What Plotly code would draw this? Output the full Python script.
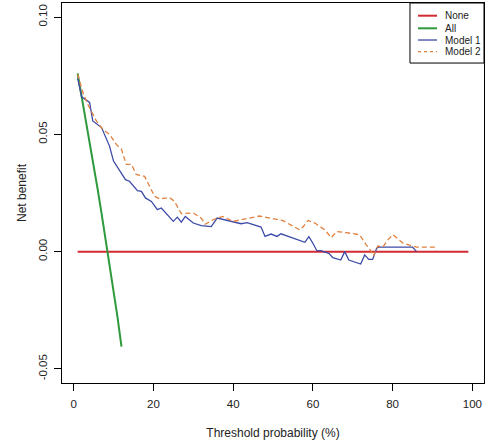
import plotly.graph_objects as go

# Threshold probabilities (%) and net benefit values
none_x = [1, 99]
none_y = [0.0, 0.0]

all_x = [1, 2, 3, 4, 5, 6, 7, 8, 9, 10, 11, 12]
all_y = [0.0760, 0.0665, 0.0569, 0.0471, 0.0371, 0.0268, 0.0163, 0.0057,
         -0.0053, -0.0164, -0.0279, -0.0405]

m1_x = [1, 2, 4, 4.8, 7, 9, 10, 13, 14, 16, 17, 18, 19.5, 21, 22, 25, 26, 27,
        28, 30, 32, 34.5, 36, 42, 43.5, 47, 48, 49.5, 51, 52, 58, 59, 60, 61,
        62, 64, 65, 67, 68, 69, 72, 73, 74, 75, 76, 76.5, 85, 86]
m1_y = [0.074, 0.066, 0.0636, 0.0557, 0.0529, 0.045, 0.0386, 0.0307, 0.030,
        0.026, 0.0257, 0.0229, 0.0214, 0.0179, 0.0186, 0.0129, 0.0147, 0.0126,
        0.015, 0.0122, 0.0111, 0.0107, 0.0143, 0.0119, 0.0124, 0.0105, 0.0065,
        0.0075, 0.0065, 0.0076, 0.004, 0.0064, 0.0036, 0.0004, 0.0004, -0.0007,
        -0.0026, -0.0036, 0.0, -0.0036, -0.0053, -0.0014, -0.0033, -0.0033,
        0.0015, 0.0019, 0.0019, 0.0]

m2_x = [1, 1.7, 2.3, 3.6, 4.8, 5.7, 7.3, 9, 10.7, 12, 13.2, 14.5, 15.7, 17.8,
        20.3, 21.6, 24, 25.3, 27, 30, 32, 33, 35, 37.4, 40, 43.3, 46.6, 52.5,
        54.6, 56.7, 57.5, 58.8, 60.5, 63, 64.6, 66, 68.4, 71.7, 73.4, 74.7,
        75.2, 76.3, 77.6, 78.8, 80.1, 82.6, 86, 90.5, 90.8]
m2_y = [0.0757, 0.0714, 0.0679, 0.0626, 0.0586, 0.0557, 0.0522, 0.050, 0.0457,
        0.0436, 0.0372, 0.0372, 0.0329, 0.0321, 0.0236, 0.0225, 0.0231, 0.0214,
        0.0162, 0.0165, 0.0143, 0.0117, 0.0136, 0.015, 0.0129, 0.0139, 0.0152,
        0.0132, 0.0114, 0.0093, 0.0105, 0.0133, 0.0122, 0.0093, 0.006, 0.0086,
        0.0081, 0.0072, 0.0029, 0.0, -0.0018, 0.0024, 0.0021, 0.005, 0.0072,
        0.0036, 0.0019, 0.0019, 0.0004]

series_names = ["None", "All", "Model 1", "Model 2"]

x_ticks = [0, 20, 40, 60, 80, 100]
y_ticks = [-0.05, 0.0, 0.05, 0.10]
y_tick_labels = ["-0.05", "0.00", "0.05", "0.10"]

RED = "#D22B33"
GREEN = "#2F9A3C"
BLUE = "#3D4BA8"
ORANGE = "#E0803F"

styles = [
    dict(color=RED, width=2),
    dict(color=GREEN, width=2),
    dict(color=BLUE, width=1.3),
    dict(color=ORANGE, width=1.3, dash="5px,3px"),
]
data = [(none_x, none_y), (all_x, all_y), (m1_x, m1_y), (m2_x, m2_y)]

FONT = "Liberation Sans, Arial, sans-serif"

fig = go.Figure()
for name, (xs, ys), st in zip(series_names, data, styles):
    fig.add_trace(go.Scatter(x=xs, y=ys, mode="lines", name=name, line=st,
                             showlegend=False, hoverinfo="skip"))

# R-style legend box in the top-right corner
shapes = [dict(type="rect", xref="paper", yref="paper", x0=0.8246, x1=1.0,
               y0=0.842, y1=1.0, line=dict(color="black", width=1),
               fillcolor="white", layer="above")]
annotations = []
entry_y = [0.9666, 0.9334, 0.9026, 0.8718]
for name, st, yy in zip(series_names, styles, entry_y):
    ln = dict(color=st["color"], width=st["width"])
    if "dash" in st:
        ln["dash"] = "3px,3px"
    shapes.append(dict(type="line", xref="paper", yref="paper", x0=0.8436,
                       x1=0.8886, y0=yy, y1=yy, line=ln, layer="above"))
    annotations.append(dict(text=name, xref="paper", yref="paper", x=0.903,
                            y=yy, xanchor="left", yanchor="middle",
                            showarrow=False,
                            font=dict(family=FONT, size=10, color="#222222")))

fig.update_layout(
    width=499, height=448,
    margin=dict(l=62, r=15, t=3, b=65),
    paper_bgcolor="white", plot_bgcolor="white",
    font=dict(family=FONT, size=11.5, color="#222222"),
    showlegend=False,
    hovermode=False,
    shapes=shapes,
    annotations=annotations,
    xaxis=dict(range=[-2.92, 102.92], tickvals=x_ticks, showgrid=False,
               zeroline=False, showline=True, mirror=True, linecolor="black",
               linewidth=1, ticks="outside", ticklen=7, tickcolor="black",
               ticklabelstandoff=3,
               title=dict(text="Threshold probability (%)", standoff=19,
                          font=dict(size=12))),
    yaxis=dict(range=[-0.056, 0.106], tickvals=y_ticks, ticktext=y_tick_labels,
               tickangle=-90, showgrid=False, zeroline=False, showline=True,
               mirror=True, linecolor="black", linewidth=1, ticks="outside",
               ticklen=7, tickcolor="black", ticklabelstandoff=2,
               title=dict(text="Net benefit", standoff=8, font=dict(size=12))),
)

fig.write_html("out.html", config={"displayModeBar": False, "staticPlot": True},
               post_script="document.body.style.margin='0px';")
